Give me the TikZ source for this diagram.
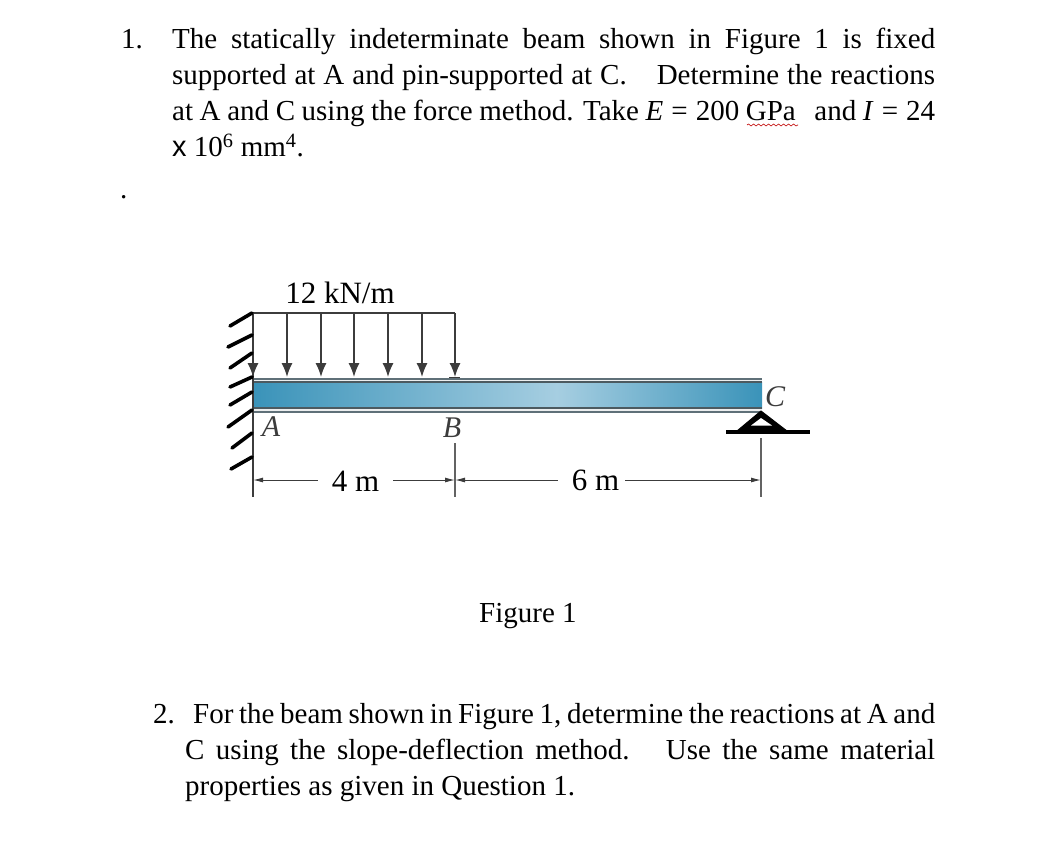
\documentclass[tikz,border=0pt]{standalone}
\usepackage{fontspec}
\setmainfont{Liberation Serif}
\newfontfamily\arialfont{Liberation Sans}
\usetikzlibrary{arrows.meta, decorations.pathmorphing}
\definecolor{beamdark}{HTML}{3A93B9}
\definecolor{beamlight}{HTML}{A6CEE1}
\definecolor{beamedge}{HTML}{5F7078}
\definecolor{inkgrey}{HTML}{3C3C3C}
\newcommand{\bodysize}{\fontsize{29}{36}\selectfont}
\newcommand{\fullline}[1]{\makebox[750pt][s]{#1}}
\tikzset{
textline/.style={anchor=base west, inner sep=0pt, font=\bodysize},
beamlabel/.style={anchor=center, inner sep=0pt, text=inkgrey, font=\fontsize{30}{30}\selectfont\itshape},
dimlabel/.style={anchor=center, inner sep=1pt, font=\fontsize{31}{36}\selectfont},
loadarrow/.style={draw=inkgrey, line width=1.5pt, -{Latex[length=14pt,width=11pt]}},
dimarrow/.style={draw=inkgrey, line width=1pt, -{Latex[length=10pt,width=5pt]}},
dimline/.style={draw=inkgrey!80, line width=1.2pt},
hatchmark/.style={line width=3.6pt, line cap=round}
}
\begin{document}
\begin{tikzpicture}[x=1pt,y=-1pt]
  \useasboundingbox (0,0) rectangle (1050,847);
  % question 1
  \node[textline] (numone) at (121,48.5) {1.};
  \node[textline] (lineone) at (172,48.5) {\makebox[763pt][s]{The statically indeterminate beam shown in Figure 1 is fixed}};
  \node[textline] (linetwo) at (172,84.5) {\makebox[763pt][s]{supported at A and pin-supported at C.\hspace{22pt} Determine the reactions}};
  \node[textline] (linethree) at (172,120.5) {\makebox[763pt][s]{at A and C using the force method. Take \textit{E}\;=\;200 GPa\hspace{12pt} and \textit{I}\;=\;24}};
  \node[textline] (linefour) at (172,156.5) {{\arialfont x} 10\textsuperscript{6} mm\textsuperscript{4}.};
  \node[textline] (strayDot) at (120,198) {.};
  \draw[red!75!black, line width=0.6pt, decorate, decoration={snake, amplitude=1pt, segment length=5pt}] (747,125) -- (798,125);
  % beam
  \fill[white!88!beamedge] (253,378) rectangle (762,412);
  \shade[left color=beamdark, right color=beamlight] (253,382) rectangle (557,408);
  \shade[left color=beamlight, right color=beamdark] (557,382) rectangle (762,408);
  \draw[beamedge, line width=2pt] (253,378.5) -- (762,378.5);
  \draw[beamedge, line width=2pt] (253,411.5) -- (762,411.5);
  \draw[beamedge!80!black, line width=1.2pt] (253,382) -- (762,382);
  \draw[beamedge!80!black, line width=1.2pt] (253,408) -- (762,408);
  % distributed load
  \node[dimlabel] (loadlabel) at (340,293) {12 kN/m};
  \draw[inkgrey, line width=1.2pt] (253,313) -- (455,313);
  \foreach \x in {253,287,321,354,388,422,455}
    \draw[loadarrow] (\x,313) -- (\x,377);
  \draw[inkgrey, line width=1.5pt] (449,377.5) -- (460,377.5);
  % wall
  \draw[inkgrey, line width=2pt] (253,313) -- (253,497);
  \foreach \ya/\xb/\yb in {313/230/326, 335/228/347, 353/230/368, 377/230/387, 392/230/405, 410/228/427, 433/232/448, 457/231/469}
    \draw[hatchmark] (252,\ya) -- (\xb,\yb);
  % support at C
  \fill[black, line join=round, draw=black, line width=1pt] (761,411) -- (787,431) -- (737,431) -- cycle;
  \fill[white] (761,418) -- (772,425.5) -- (751,425.5) -- cycle;
  \draw[black, line width=3.5pt] (726,432) -- (810,432);
  % labels
  \node[beamlabel] (labela) at (271,427) {A};
  \node[beamlabel] (labelb) at (452,428) {B};
  \node[beamlabel] (labelc) at (775,397) {C};
  % dimensions
  \coordinate (dimleft) at (253,480);
  \coordinate (dimmid) at (455,480);
  \coordinate (dimright) at (761,480);
  \draw[dimline] (455,443) -- (455,497);
  \draw[dimline] (761,438) -- (761,497);
  \node[dimlabel, inner sep=0pt, minimum width=75pt] (dimfour) at (355.5,481) {4 m\hspace{4pt}};
  \node[dimlabel, inner sep=0pt, minimum width=67pt] (dimsix) at (591.5,480) {\hspace{8pt}6 m};
  \draw[dimarrow] (dimfour.east |- dimmid) -- (dimmid);
  \draw[dimarrow] (dimfour.west |- dimleft) -- (dimleft);
  \draw[dimarrow] (dimsix.west |- dimmid) -- (dimmid);
  \draw[dimarrow] (dimsix.east |- dimright) -- (dimright);
  \node[textline] (figlabel) at (479,622) {Figure 1};
  % question 2
  \node[textline] (numtwo) at (153,723) {2.};
  \node[textline] (secondone) at (193,723) {\makebox[742pt][s]{For the beam shown in Figure 1, determine the reactions at A and}};
  \node[textline] (secondtwo) at (185,759) {\fullline{C using the slope-deflection method.\hspace{14pt} Use the same material}};
  \node[textline] (secondthree) at (185,795) {properties as given in Question 1.};
\end{tikzpicture}
\end{document}
